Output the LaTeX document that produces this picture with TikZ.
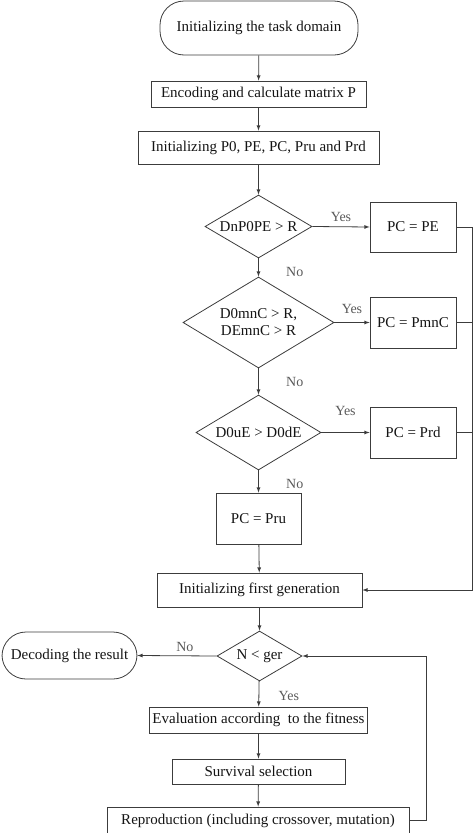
\documentclass[tikz,border=0pt]{standalone}
\usepackage{fontspec}
\setmainfont{Liberation Serif}
\usepackage{tikz}
\usetikzlibrary{arrows,shapes,positioning}
\usepackage{xcolor}
\definecolor{fcline}{RGB}{60,60,60}
\definecolor{fctext}{RGB}{20,20,20}
\definecolor{fclabel}{RGB}{90,90,90}
\tikzstyle{terminal} = [rectangle, rounded corners=24pt, text centered, draw=fcline, line width=0.8pt, text=fctext, font=\fontsize{15}{17}\selectfont]
\tikzstyle{process} = [rectangle, text centered, draw=fcline, line width=0.8pt, text=fctext, font=\fontsize{15}{17}\selectfont]
\tikzstyle{decision} = [diamond, inner sep=0pt, align=center, draw=fcline, line width=0.8pt, text=fctext, font=\fontsize{15}{17}\selectfont]
\tikzstyle{arrow} = [line width=0.8pt,->,>=latex,color=fcline]
\tikzstyle{link} = [line width=0.8pt,color=fcline]
\tikzstyle{answer} = [text=fclabel, font=\fontsize{14}{16}\selectfont]

\begin{document}
\begin{tikzpicture}[x=1pt, y=-1pt]
\useasboundingbox (0,0) rectangle (474,833);
% Set-up nodes
\node (start) [terminal, minimum width=198pt, minimum height=54pt] at (259,28) {Initializing the task domain};
\node (enc) [process, minimum width=215pt, minimum height=26pt] at (258.5,94) {Encoding and calculate matrix P};
\node (init) [process, minimum width=241pt, minimum height=33pt] at (258.5,147.5) {Initializing P0, PE, PC, Pru and Prd};

% Decisions and their PC boxes
\node (dpe) [decision, minimum width=107pt, minimum height=63pt, shape aspect=1.7] at (258.5,226.5) {DnP0PE \textgreater{} R};
\node (pe) [process, minimum width=86pt, minimum height=50pt] at (413,227) {PC = PE};
\node (dmnc) [decision, minimum width=151pt, minimum height=91pt, shape aspect=1.66] at (258.5,322.5) {D0mnC \textgreater{} R,\\DEmnC \textgreater{} R};
\node (pmnc) [process, minimum width=86pt, minimum height=51pt] at (413,322.5) {PC = PmnC};
\node (dud) [decision, minimum width=125pt, minimum height=75pt, shape aspect=1.67] at (258.5,432.5) {D0uE \textgreater{} D0dE};
\node (prd) [process, minimum width=86pt, minimum height=51pt] at (413,432.5) {PC = Prd};
\node (pru) [process, minimum width=85pt, minimum height=51pt] at (258.5,518.5) {PC = Pru};

% Evolution loop
\node (gen) [process, minimum width=205pt, minimum height=34pt] at (259.5,590) {Initializing first generation};
\node (cond) [decision, minimum width=85pt, minimum height=50pt, shape aspect=1.7] at (259.5,656) {N \textless{} ger};
\node (decode) [terminal, minimum width=135pt, minimum height=47pt] at (69.5,655.5) {Decoding the result};
\node (eval) [process, minimum width=217pt, minimum height=26pt] at (258.5,720) {Evaluation according\ \ to the fitness};
\node (surv) [process, minimum width=173pt, minimum height=25pt] at (258.5,771.5) {Survival selection};
\node (repro) [process, minimum width=302pt, minimum height=27pt] at (258,820.5) {Reproduction (including crossover, mutation)};

\coordinate (rail) at (472,0);
\coordinate (back) at (426,0);

% Arrows down the main line
\draw[arrow] (start) -- (enc);
\draw[arrow] (enc) -- (init);
\draw[arrow] (init) -- (dpe);
\draw[arrow] (dpe) -- node[answer, right, xshift=24pt, yshift=-4pt] {No} (dmnc);
\draw[arrow] (dmnc) -- node[answer, right, xshift=24pt] {No} (dud);
\draw[arrow] (dud) -- node[answer, right, xshift=24pt, yshift=-2pt] {No} (pru);
\draw[arrow] (pru) -- (gen);
\draw[arrow] (gen) -- (cond);
\draw[arrow] (cond) -- node[answer, right, xshift=16pt, yshift=-2pt] {Yes} (eval);
\draw[arrow] (eval) -- (surv);
\draw[arrow] (surv) -- (repro);

% Yes branches
\draw[arrow] (dpe.east) -- node[answer, above, yshift=1pt] {Yes} (pe.west);
\draw[arrow] (dmnc.east) -- node[answer, above, yshift=5pt] {Yes} (pmnc.west);
\draw[arrow] (dud.east) -- node[answer, above, yshift=13pt] {Yes} (prd.west);

% Right rail back into first generation
\draw[arrow] (pe.east) -| (rail |- gen.east) -- (gen.east);
\draw[link] (pmnc.east) -- (pmnc.east -| rail);
\draw[link] (prd.east) -- (prd.east -| rail);

% Exit and loop back
\draw[arrow] (cond.west) -- node[answer, above, pos=0.4] {No} (decode.east);
\draw[arrow] (repro.east) -| (back |- cond.east) -- (cond.east);
\end{tikzpicture}
\end{document}
